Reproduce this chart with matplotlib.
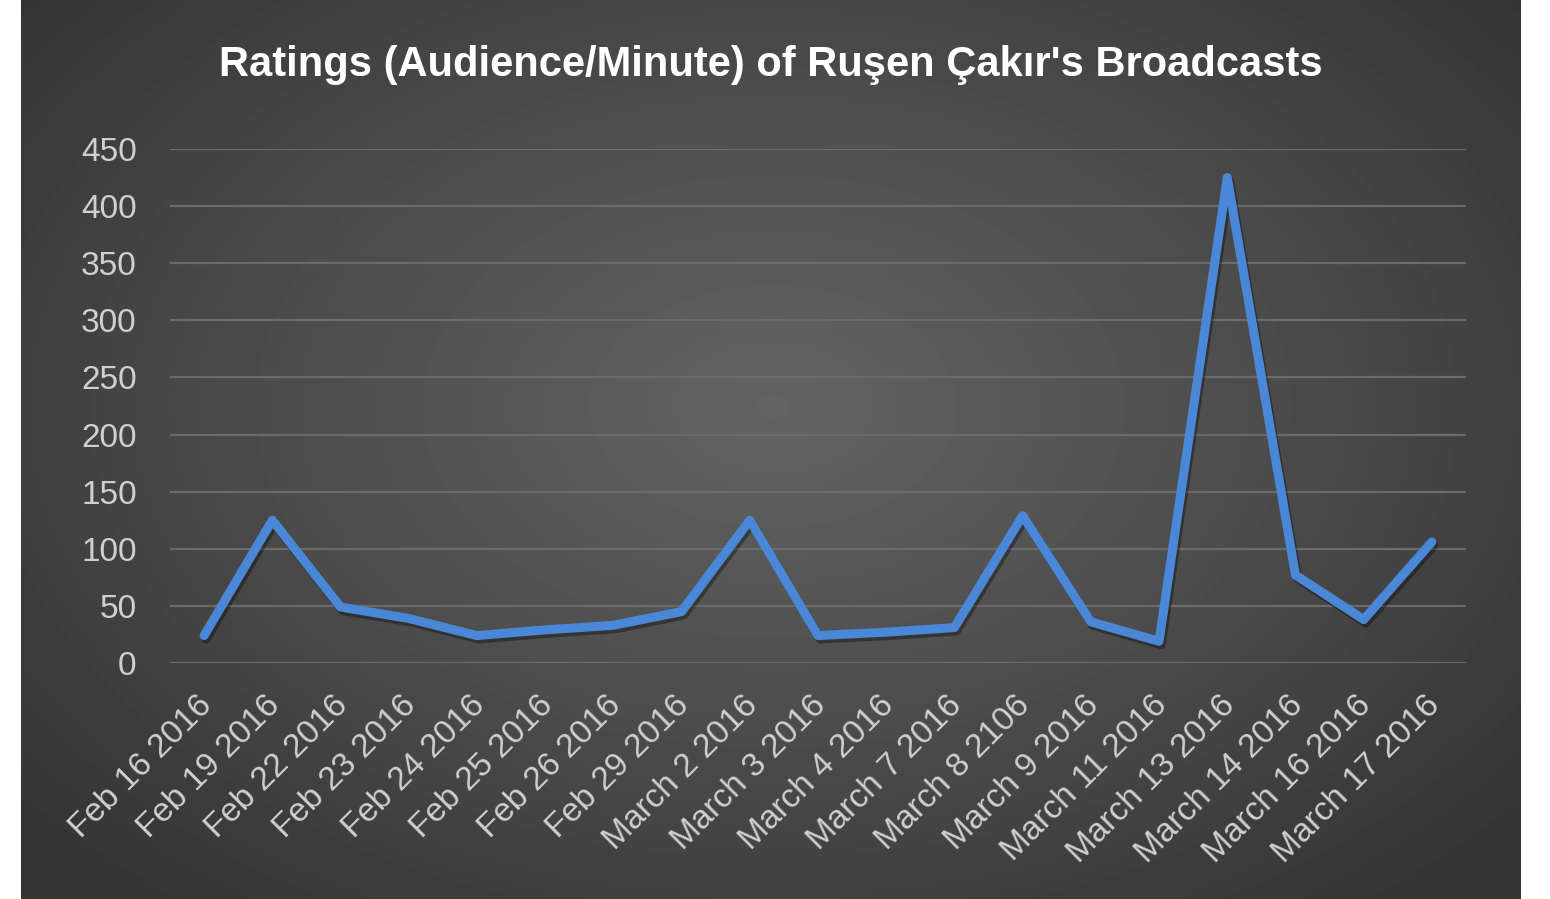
import matplotlib
matplotlib.use("Agg")
import matplotlib.pyplot as plt
import matplotlib.patheffects as pe
import matplotlib.transforms as mtransforms
import numpy as np

plt.rcParams["font.family"] = ["Liberation Sans", "DejaVu Sans"]

# data
dates = ["Feb 16 2016", "Feb 19 2016", "Feb 22 2016", "Feb 23 2016", "Feb 24 2016",
         "Feb 25 2016", "Feb 26 2016", "Feb 29 2016", "March 2 2016", "March 3 2016",
         "March 4 2016", "March 7 2016", "March 8 2106", "March 9 2016", "March 11 2016",
         "March 13 2016", "March 14 2016", "March 16 2016", "March 17 2016"]
ratings = [24, 125, 49, 39, 24, 29, 33, 45, 125, 24, 27, 31, 129, 36, 19, 425, 77, 38, 106]
yticks = [0, 50, 100, 150, 200, 250, 300, 350, 400, 450]

fig = plt.figure(figsize=(15.5, 8.99), dpi=100)
fig.patch.set_facecolor("white")

# dark panel with radial gradient
bg = fig.add_axes([21 / 1550, 0, 1500 / 1550, 1])
bg.set_axis_off()
yy, xx = np.mgrid[0:200, 0:300]
r = np.sqrt(((xx - 150) / 150) ** 2 + ((yy - 90) / 110) ** 2)
r = np.clip(r / 1.35, 0, 1)
lo, hi = 0.20, 0.39
shade = hi - (hi - lo) * r
bg.imshow(shade, cmap="gray", vmin=0, vmax=1, aspect="auto",
          interpolation="bilinear", extent=[0, 1, 0, 1])

ax = fig.add_axes([170 / 1550, 1 - 663 / 899, 1296 / 1550, 514 / 899])
ax.patch.set_alpha(0)
x = np.arange(len(dates))
ax.plot(x, ratings, color="#4a87d6", lw=6.5, solid_joinstyle="round",
        solid_capstyle="round", zorder=3,
        path_effects=[pe.SimpleLineShadow(offset=(1.5, -2.5), shadow_color="black", alpha=0.35),
                      pe.Normal()])

ax.set_xlim(-0.5, len(dates) - 0.5)
ax.set_ylim(0, 450)
ax.set_yticks(yticks)
ax.set_yticklabels([str(v) for v in yticks])
ax.set_xticks(x)
ax.set_xticklabels(dates, rotation=45, ha="right", rotation_mode="anchor")
ax.grid(axis="y", color="#6b6b6b", lw=1.6)
ax.set_axisbelow(True)
for s in ax.spines.values():
    s.set_visible(False)
ax.tick_params(axis="both", length=0, colors="#d0d0d0", labelsize=24)
ax.tick_params(axis="y", pad=24)
ax.tick_params(axis="x", pad=14)

# nudge date labels slightly back along their slant
shift = mtransforms.ScaledTranslation(-8 / 100, -7 / 100, fig.dpi_scale_trans)
for lab in ax.get_xticklabels():
    lab.set_transform(lab.get_transform() + shift)

fig.text(0.497, 0.928, "Ratings (Audience/Minute) of Ruşen Çakır's Broadcasts",
         ha="center", va="center", color="white", fontsize=30, fontweight="bold")

fig.savefig("out.png", dpi=100, facecolor=fig.get_facecolor())
